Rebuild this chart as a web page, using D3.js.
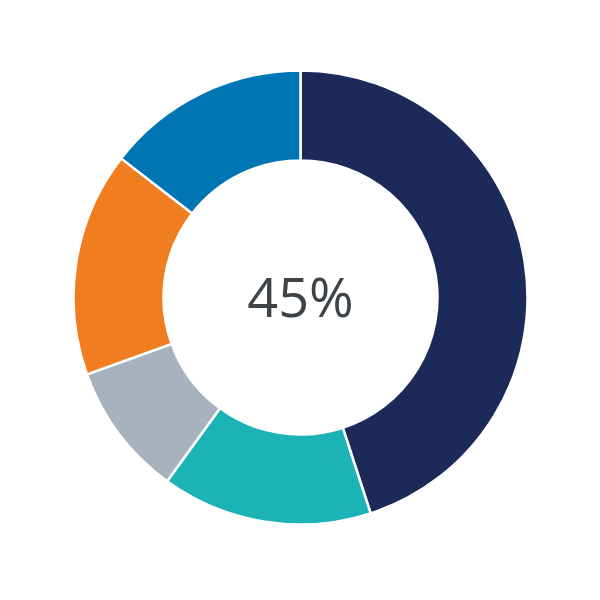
<!DOCTYPE html>
<html><head><meta charset="utf-8">
<script src="https://cdn.jsdelivr.net/npm/d3@7"></script>
<style>html,body{margin:0;padding:0;background:#fff;}</style>
</head><body>
<svg id="chart" width="600" height="600"></svg>
<script>
const categories = ["A", "B", "C", "D", "E"];
const values = [45, 15, 9.5, 16, 14.5];
const colors = ["#1c2a5a", "#1bb3b6", "#a8b2bf", "#f07e20", "#0075b4"];
const centerLabel = "45%";

const svg = d3.select("#chart");
const g = svg.append("g").attr("transform", "translate(300.5,297.5)");
const data = categories.map((c, i) => ({ c, v: values[i], col: colors[i] }));
const pie = d3.pie().value(d => d.v).sort(null);
const arc = d3.arc().innerRadius(137).outerRadius(227);
g.selectAll("path").data(pie(data)).join("path")
  .attr("d", arc)
  .attr("fill", d => d.data.col)
  .attr("stroke", "#fff")
  .attr("stroke-width", 2.5);
g.append("text").text(centerLabel)
  .attr("text-anchor", "middle")
  .attr("y", 19)
  .attr("font-family", "'Open Sans', sans-serif")
  .attr("font-size", 54)
  .attr("fill", "#3d4449");
</script>
</body></html>
